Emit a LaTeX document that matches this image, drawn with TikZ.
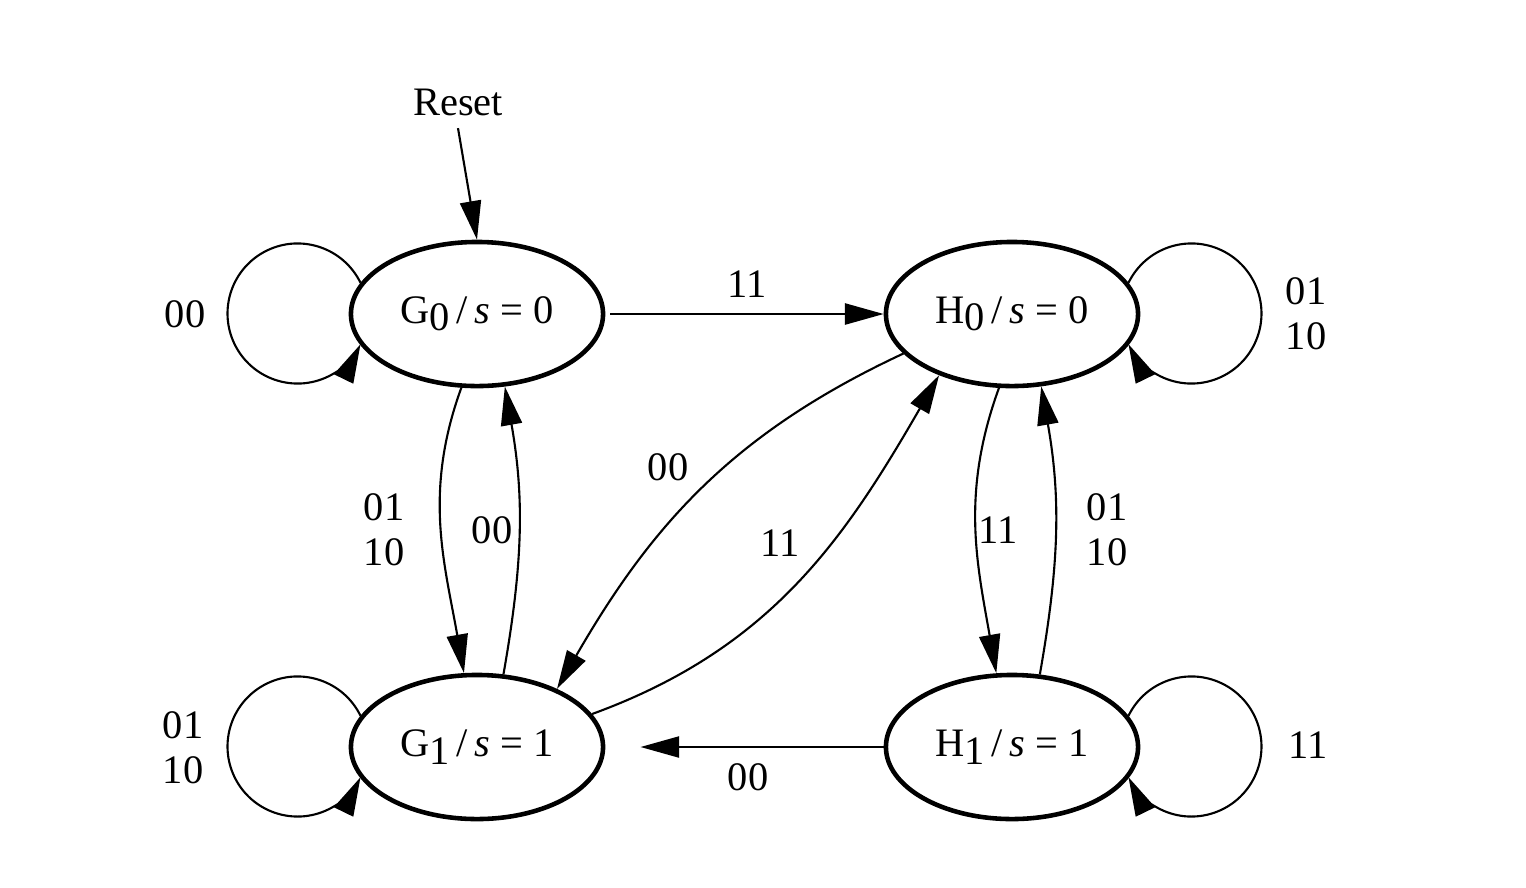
\documentclass[tikz,border=0pt]{standalone}
\usepackage{fontspec}
\setmainfont{Liberation Serif}
\usetikzlibrary{arrows.meta,shapes.geometric}
\begin{document}
\begin{tikzpicture}[x=0.01cm,y=-0.01cm,
  st/.style={ellipse,draw,line width=1.3pt,minimum width=2.52cm,minimum height=1.44cm,inner sep=0pt},
  ed/.style={line width=0.6pt,-{Triangle[length=11pt,width=6pt]}},
  lb/.style={align=center,inner sep=0pt},
  every node/.style={font=\fontsize{11.5}{12.8}\selectfont}]
\useasboundingbox (0,0) rectangle (1526,887);
\newcommand{\stl}[3]{#1\raisebox{-0.4ex}{#2}\,/\,\textit{s} = #3}
\node[st] (G0) at (477,314) {\stl{G}{0}{0}};
\node[st] (H0) at (1012,314) {\stl{H}{0}{0}};
\node[st] (G1) at (477,747) {\stl{G}{1}{1}};
\node[st] (H1) at (1012,747) {\stl{H}{1}{1}};
\node[lb] (reset) at (458,102) {Reset};
\draw[ed] (reset.south) ++(0,12) coordinate (rs) -- (G0.north);
% self loops
\draw[ed] (G0.165) arc[start angle=26,end angle=334,radius=0.70cm];
\draw[ed] (G1.165) arc[start angle=26,end angle=334,radius=0.70cm];
\draw[ed] (H0.15) arc[start angle=154,end angle=-154,radius=0.70cm];
\draw[ed] (H1.15) arc[start angle=154,end angle=-154,radius=0.70cm];
% edges
\draw[ed] (G0.east) ++(5,0) -- (H0.west);
\draw[ed] (H1.west) -- ([xshift=10]G1.east);
\draw[ed] (G0.258) to[out=250,in=100] (G1.100);
\draw[ed] (G1.70) to[out=80,in=280] (G0.291);
\draw[ed] (H0.260) to[out=250,in=100] (H1.102);
\draw[ed] (H1.69) to[out=80,in=280] (H0.292);
\draw[ed] (H0.200) to[out=205,in=60] (G1.36);
\draw[ed] (G1.16) to[out=20,in=240] (H0.220);
% labels
\node[lb] at (185,314) {00};
\node[lb] at (183,748) {01\\10};
\node[lb] at (1306,314) {01\\10};
\node[lb] at (1308,745) {11};
\node[lb] at (747,284) {11};
\node[lb] at (384,530) {01\\10};
\node[lb] at (492,530) {00};
\node[lb] at (668,467) {00};
\node[lb] at (780,543) {11};
\node[lb] at (998,530) {11};
\node[lb] at (1107,530) {01\\10};
\node[lb] at (748,777) {00};
\end{tikzpicture}
\end{document}
